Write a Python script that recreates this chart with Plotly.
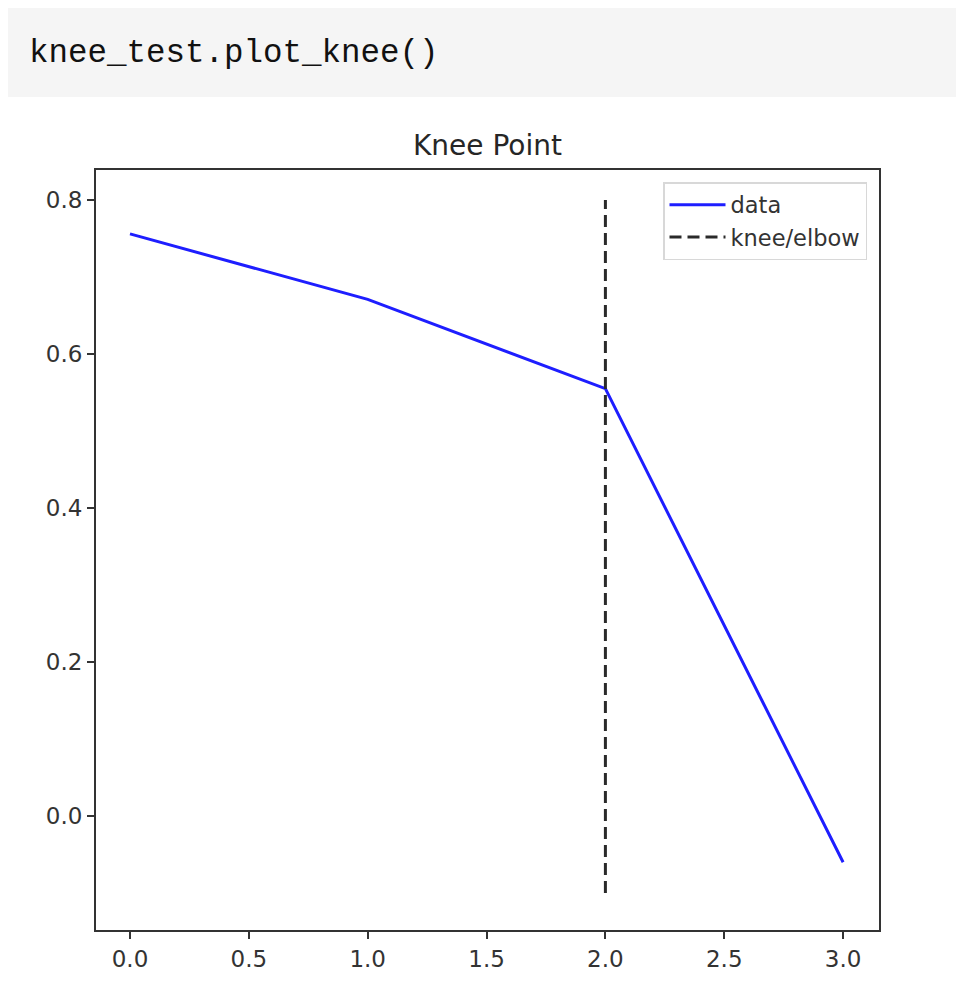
import plotly.graph_objects as go

# ---- data ----
x_values = [0, 1, 2, 3]
y_values = [0.756, 0.671, 0.555, -0.060]
knee_x = 2
knee_ymin = -0.10
knee_ymax = 0.80
x_ticks = [0.0, 0.5, 1.0, 1.5, 2.0, 2.5, 3.0]
x_ticklabels = ["0.0", "0.5", "1.0", "1.5", "2.0", "2.5", "3.0"]
y_ticks = [0.0, 0.2, 0.4, 0.6, 0.8]
y_ticklabels = ["0.0", "0.2", "0.4", "0.6", "0.8"]
title_text = "Knee Point"
code_text = "knee_test.plot_knee()"
series_names = ["data", "knee/elbow"]

OFF = 8  # page body margin
W, H = 964 - OFF, 1006 - OFF
L, R, T, B = 96 - OFF, 879 - OFF, 170 - OFF, 930 - OFF
PW, PH = R - L, B - T


def px(xp):
    return (xp - OFF - L) / PW


def py(yp):
    return (B - (yp - OFF)) / PH


fig = go.Figure()
fig.add_trace(go.Scatter(
    x=x_values, y=y_values, mode="lines", name=series_names[0],
    line=dict(color="rgb(30,30,255)", width=3),
))
fig.add_trace(go.Scatter(
    x=[knee_x, knee_x], y=[knee_ymin, knee_ymax], mode="lines", name=series_names[1],
    line=dict(color="#2a2a2a", width=3, dash="12px,6px"),
))

axis_common = dict(
    showgrid=False, zeroline=False, showline=True, mirror=True,
    linecolor="#333333", linewidth=2,
    ticks="outside", ticklen=7, tickwidth=2, tickcolor="#333333",
    tickfont=dict(family="DejaVu Sans", size=23, color="#333333"),
)

fig.update_layout(
    width=W, height=H,
    margin=dict(l=L, r=W - R, t=T, b=H - B, pad=0),
    paper_bgcolor="white", plot_bgcolor="white",
    showlegend=True,
    legend=dict(
        x=px(867), y=py(182), xanchor="right", yanchor="top",
        bgcolor="white", bordercolor="#d8d8d8", borderwidth=1.5,
        font=dict(family="DejaVu Sans", size=22.5, color="#333333"),
        tracegroupgap=0, itemwidth=56,
    ),
    xaxis=dict(range=[-0.143, 3.151], tickvals=x_ticks, ticktext=x_ticklabels, **axis_common),
    yaxis=dict(range=[-0.148, 0.839], tickvals=y_ticks, ticktext=y_ticklabels, **axis_common),
    shapes=[dict(
        type="rect", xref="paper", yref="paper",
        x0=px(0), x1=px(972), y0=py(97), y1=py(6),
        fillcolor="#f5f5f5", line=dict(width=0), layer="below",
    )],
    annotations=[
        dict(text=code_text, xref="paper", yref="paper", x=px(27), y=py(54),
             xanchor="left", yanchor="middle", showarrow=False,
             font=dict(family="Liberation Mono, Courier New, monospace", size=32.5, color="#111111")),
        dict(text=title_text, xref="paper", yref="paper", x=0.5, y=py(146),
             xanchor="center", yanchor="middle", showarrow=False,
             font=dict(family="DejaVu Sans", size=28, color="#262626")),
    ],
)

fig.write_html("out.html")
